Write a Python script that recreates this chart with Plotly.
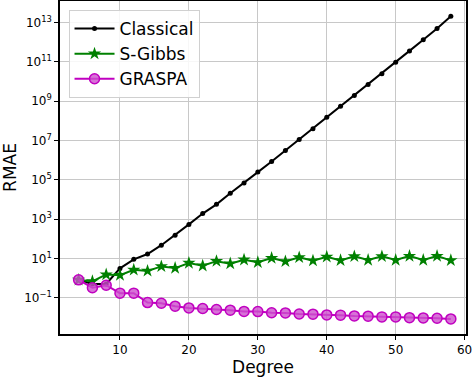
import plotly.graph_objects as go

degree = [4, 6, 8, 10, 12, 14, 16, 18, 20, 22, 24, 26, 28, 30, 32, 34, 36, 38, 40,
          42, 44, 46, 48, 50, 52, 54, 56, 58]

classical_log = [-0.09, -0.30, -0.30, 0.49, 0.95, 1.22, 1.67, 2.18, 2.73, 3.28, 3.75, 4.31,
                 4.83, 5.39, 5.93, 6.49, 7.05, 7.60, 8.18, 8.74, 9.29, 9.85, 10.40, 10.98,
                 11.56, 12.13, 12.70, 13.32]
classical = [10 ** v for v in classical_log]

sgibbs = [0.80, 0.68, 1.5, 1.4, 2.6, 2.3, 3.9, 3.2, 5.8, 4.2, 7.2, 5.4,
          8.5, 6.3, 10.3, 7.0, 11.2, 7.6, 12.0, 7.9, 12.6, 8.2, 12.6, 8.2,
          13.0, 8.2, 13.0, 7.9]

graspa = [0.81, 0.32, 0.43, 0.17, 0.17, 0.056, 0.052, 0.037, 0.030, 0.028, 0.025, 0.023,
          0.020, 0.0195, 0.017, 0.0167, 0.0148, 0.0144, 0.0132, 0.0129, 0.0118, 0.0114,
          0.0105, 0.0105, 0.0096, 0.0093, 0.0090, 0.0083]

x_ticks = [10, 20, 30, 40, 50, 60]
y_exps = [-1, 1, 3, 5, 7, 9, 11, 13]
y_tickvals = [10 ** e for e in y_exps]
y_ticktext = [f"10<sup>{e if e >= 0 else '\u2212' + str(-e)}</sup>" for e in y_exps]

fig = go.Figure()
fig.add_trace(go.Scatter(
    x=degree, y=classical, name="Classical", mode="lines+markers",
    line=dict(color="black", width=2),
    marker=dict(symbol="circle", size=5, color="black")))
fig.add_trace(go.Scatter(
    x=degree, y=sgibbs, name="S-Gibbs", mode="lines+markers",
    line=dict(color="#008000", width=2),
    marker=dict(symbol="star", size=10, color="#008000")))
fig.add_trace(go.Scatter(
    x=degree, y=graspa, name="GRASPA", mode="lines+markers",
    line=dict(color="#c000c0", width=2),
    marker=dict(symbol="circle", size=10, color="rgba(205,80,205,0.8)",
                line=dict(color="#c000c0", width=1.5))))

axis_common = dict(
    showline=True, linecolor="black", linewidth=1.5, mirror=True,
    ticks="outside", ticklen=4, tickcolor="black", tickwidth=1,
    showgrid=True, gridcolor="#c8c8c8", gridwidth=1, zeroline=False,
    automargin=False,
    tickfont=dict(family="DejaVu Sans", size=12, color="black"),
)

fig.update_layout(
    width=474, height=378,
    margin=dict(l=60, r=8, t=1, b=44, autoexpand=False),
    paper_bgcolor="white", plot_bgcolor="white",
    font=dict(family="DejaVu Sans", color="black"),
    showlegend=True,
    legend=dict(
        x=0.021, y=0.973, xanchor="left", yanchor="top",
        bgcolor="rgba(255,255,255,0.85)", bordercolor="#d0d0d0", borderwidth=1,
        font=dict(family="DejaVu Sans", size=17, color="black"),
        itemwidth=40, tracegroupgap=0,
    ),
    xaxis=dict(
        range=[1.3, 60.2], tickvals=x_ticks,
        title=dict(text="Degree", font=dict(family="DejaVu Sans", size=17), standoff=2),
        **axis_common),
    yaxis=dict(
        type="log", range=[-2.85, 14.1], tickvals=y_tickvals, ticktext=y_ticktext,
        title=dict(text="RMAE", font=dict(family="DejaVu Sans", size=17), standoff=4),
        **axis_common),
)

fig.write_html("out.html", config={"displayModeBar": False},
               post_script="document.body.style.margin='0';")
